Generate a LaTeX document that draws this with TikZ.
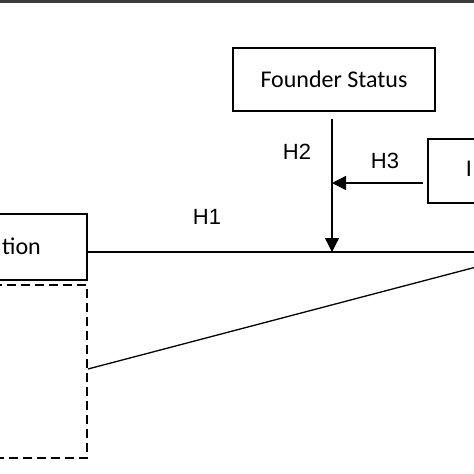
\documentclass[tikz,border=0pt]{standalone}
\usepackage{fontspec}
\setmainfont{Liberation Sans}
\newfontfamily\boxfont{Carlito}
\usetikzlibrary{arrows.meta}
\begin{document}
\begin{tikzpicture}[x=1pt,y=-1pt,
  box/.style={draw,line width=1.8pt,inner sep=0pt,font=\boxfont\fontsize{24}{27}\selectfont},
  conn/.style={line width=1.3pt},
  arr/.style={conn,-{Triangle[length=14pt,width=14pt]}},
  hlab/.style={font=\fontsize{22}{24}\selectfont,inner sep=0pt}]
\useasboundingbox (0,0) rectangle (474,474);
\clip (0,0) rectangle (474,474);
\fill[gray!30!black!90] (0,0) rectangle (474,2.5);
% boxes
\node[box,minimum width=202pt,minimum height=63pt] (founder) at (334,79.5) {Founder Status};
\node[box,minimum width=140pt,minimum height=64pt,anchor=north west] (right) at (427,138) {};
\node[font=\boxfont\fontsize{24}{27}\selectfont,inner sep=0pt] (rlab) at (469,169) {I};
\node[box,minimum width=190pt,minimum height=66pt,anchor=north east] (left) at (88,213) {};
\node[font=\boxfont\fontsize{24}{27}\selectfont,inner sep=0pt,anchor=east] (llab) at (41,246) {tion};
\node[draw,dash pattern=on 9pt off 5pt,line width=1.6pt,minimum width=190pt,minimum height=173pt,anchor=north east,inner sep=0pt] (dash) at (88,284) {};
% coordinates
\coordinate (meet) at (332,252);
\coordinate (h1end) at (480,252);
\coordinate (slend) at (480,266);
\coordinate (dashpt) at (88,369);
\coordinate (vtop) at (332,119);
\coordinate (hjoin) at (332,183);
\coordinate (hstart) at (423,183);
% connectors
\draw[conn] (left.east |- meet) -- (h1end);
\draw[conn] (dashpt) -- (slend);
\draw[arr] (vtop) -- (meet);
\draw[arr] (hstart) -- (hjoin);
% labels
\node[hlab] (H1) at (207,217) {H1};
\node[hlab] (H2) at (297,152) {H2};
\node[hlab] (H3) at (385,161) {H3};
\end{tikzpicture}
\end{document}
